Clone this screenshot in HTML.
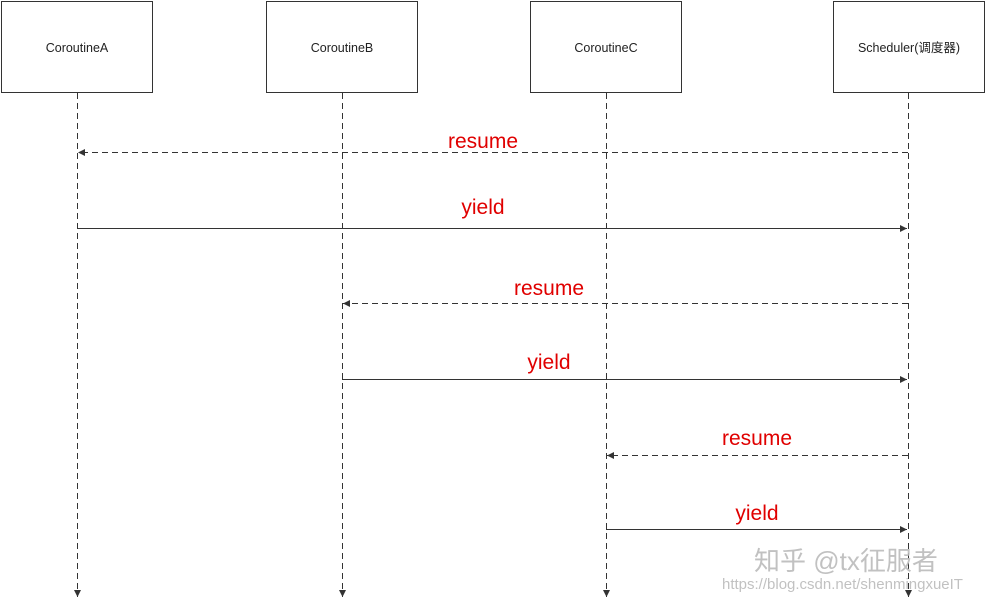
<!DOCTYPE html>
<html><head><meta charset="utf-8"><style>
html,body{margin:0;padding:0;background:#fff;}
svg{display:block;}
</style></head><body>
<svg width="985" height="601" viewBox="0 0 985 601" xmlns="http://www.w3.org/2000/svg">
<defs>
<marker id="ah" markerWidth="8" markerHeight="8" refX="7" refY="4" orient="auto" markerUnits="userSpaceOnUse">
<path d="M0,0.5 L7,4 L0,7.5 Z" fill="#333"/>
</marker>
</defs>
<g fill="#fff" stroke="#333" stroke-width="1">
<rect x="1.5" y="1.5" width="151" height="91"/>
<rect x="266.5" y="1.5" width="151" height="91"/>
<rect x="530.5" y="1.5" width="151" height="91"/>
<rect x="833.5" y="1.5" width="151" height="91"/>
</g>
<g font-family="'Liberation Sans','Noto Sans CJK SC',sans-serif" font-size="12.5" fill="#222" text-anchor="middle">
<text x="77" y="52">CoroutineA</text>
<text x="342" y="52">CoroutineB</text>
<text x="606" y="52">CoroutineC</text>
<text x="909" y="52">Scheduler(调度器)</text>
</g>
<g stroke="#333" stroke-width="1" stroke-dasharray="6,4" fill="none" marker-end="url(#ah)">
<line x1="77.5" y1="93" x2="77.5" y2="597"/>
<line x1="342.5" y1="93" x2="342.5" y2="597"/>
<line x1="606.5" y1="93" x2="606.5" y2="597"/>
<line x1="908.5" y1="93" x2="908.5" y2="597"/>
</g>
<g stroke="#333" stroke-width="1" fill="none" marker-end="url(#ah)">
<line x1="908" y1="152.5" x2="78" y2="152.5" stroke-dasharray="6,4"/>
<line x1="77" y1="228.5" x2="907" y2="228.5"/>
<line x1="908" y1="303.5" x2="343" y2="303.5" stroke-dasharray="6,4"/>
<line x1="342" y1="379.5" x2="907" y2="379.5"/>
<line x1="908" y1="455.5" x2="607" y2="455.5" stroke-dasharray="6,4"/>
<line x1="606" y1="529.5" x2="907" y2="529.5"/>
</g>
<g font-family="'Liberation Sans',sans-serif" font-size="21" fill="#e00000" text-anchor="middle">
<text x="483" y="148">resume</text>
<text x="483" y="214">yield</text>
<text x="549" y="295">resume</text>
<text x="549" y="369">yield</text>
<text x="757" y="445">resume</text>
<text x="757" y="520">yield</text>
</g>
<g font-family="'Liberation Sans','Noto Sans CJK SC',sans-serif" fill="#bbb" opacity="0.9">
<text x="754" y="570" font-size="26">知乎 @tx征服者</text>
<text x="722" y="589" font-size="15">https://blog.csdn.net/shenmingxueIT</text>
</g>
</svg>
</body></html>
